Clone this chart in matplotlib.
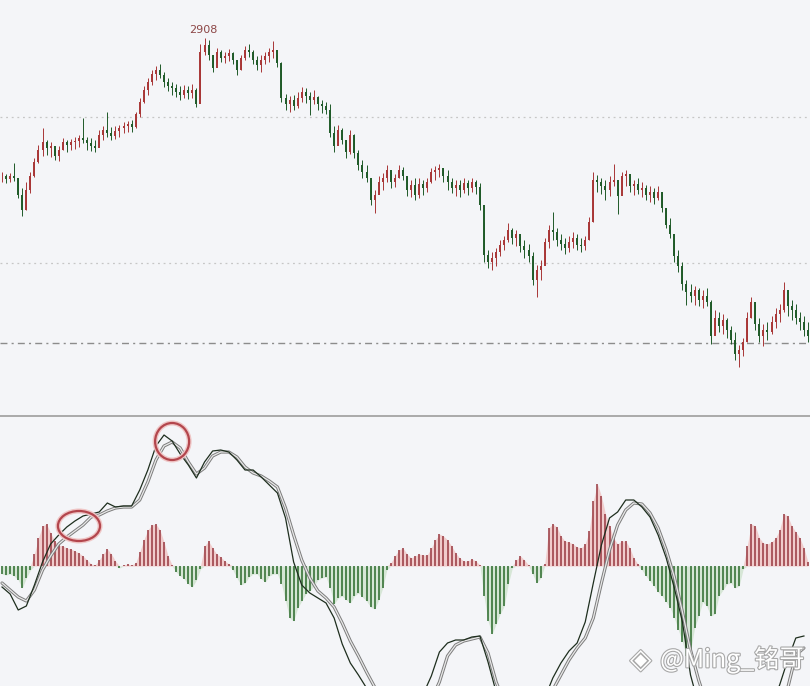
import matplotlib
matplotlib.use("Agg")
import matplotlib.pyplot as plt
import matplotlib.patheffects as pe
from matplotlib.patches import Ellipse
import numpy as np

plt.rcParams['font.family'] = ['Noto Sans CJK SC', 'DejaVu Sans']

# price candles, open = previous close
highs = [2724, 2722, 2723, 2737, 2716, 2702, 2711, 2724, 2744, 2761,
         2785, 2768, 2765, 2757, 2760, 2771, 2768, 2770, 2772, 2775,
         2798, 2772, 2771, 2768, 2782, 2787, 2807, 2786, 2787, 2789,
         2793, 2794, 2796, 2807, 2826, 2842, 2853, 2864, 2870, 2872,
         2861, 2853, 2848, 2845, 2842, 2844, 2842, 2845, 2839, 2900,
         2908, 2905, 2885, 2894, 2892, 2889, 2893, 2889, 2878, 2885,
         2897, 2900, 2892, 2883, 2885, 2889, 2894, 2904, 2885, 2875,
         2831, 2828, 2830, 2834, 2841, 2839, 2834, 2837, 2828, 2823,
         2820, 2818, 2787, 2789, 2785, 2768, 2782, 2776, 2755, 2741,
         2734, 2713, 2700, 2719, 2723, 2734, 2724, 2722, 2734, 2731,
         2718, 2713, 2716, 2716, 2713, 2716, 2730, 2733, 2735, 2730,
         2727, 2716, 2713, 2713, 2716, 2713, 2716, 2713, 2709, 2656,
         2618, 2615, 2620, 2631, 2637, 2654, 2648, 2645, 2637, 2631,
         2626, 2615, 2597, 2604, 2634, 2652, 2670, 2648, 2639, 2634,
         2637, 2642, 2639, 2634, 2637, 2663, 2724, 2720, 2716, 2713,
         2719, 2735, 2702, 2724, 2727, 2719, 2713, 2716, 2711, 2707,
         2705, 2702, 2705, 2697, 2675, 2661, 2631, 2618, 2601, 2576,
         2571, 2568, 2565, 2563, 2565, 2549, 2535, 2533, 2530, 2524,
         2513, 2505, 2487, 2497, 2533, 2553, 2542, 2524, 2516, 2519,
         2527, 2538, 2544, 2574, 2554, 2549, 2544, 2533, 2527, 2519]
lows = [2711, 2709, 2711, 2712, 2689, 2664, 2672, 2696, 2718, 2737,
        2746, 2748, 2745, 2741, 2739, 2755, 2752, 2755, 2756, 2759,
        2764, 2755, 2753, 2752, 2761, 2768, 2772, 2768, 2770, 2772,
        2778, 2779, 2779, 2785, 2800, 2819, 2830, 2844, 2850, 2853,
        2841, 2835, 2830, 2827, 2823, 2826, 2824, 2826, 2813, 2826,
        2885, 2878, 2861, 2874, 2875, 2874, 2876, 2872, 2857, 2864,
        2878, 2882, 2872, 2864, 2861, 2872, 2875, 2881, 2868, 2820,
        2809, 2807, 2809, 2812, 2820, 2819, 2802, 2818, 2809, 2805,
        2804, 2772, 2752, 2761, 2763, 2744, 2749, 2744, 2727, 2716,
        2711, 2679, 2668, 2697, 2700, 2711, 2702, 2704, 2716, 2713,
        2691, 2690, 2686, 2689, 2693, 2697, 2709, 2713, 2718, 2711,
        2700, 2696, 2691, 2690, 2696, 2693, 2697, 2694, 2672, 2601,
        2593, 2590, 2596, 2609, 2618, 2628, 2626, 2623, 2615, 2607,
        2601, 2570, 2553, 2576, 2601, 2620, 2631, 2623, 2618, 2612,
        2615, 2620, 2618, 2615, 2618, 2631, 2656, 2697, 2694, 2686,
        2691, 2705, 2667, 2700, 2705, 2697, 2693, 2694, 2690, 2686,
        2683, 2681, 2686, 2670, 2648, 2634, 2601, 2587, 2563, 2542,
        2546, 2542, 2541, 2538, 2541, 2489, 2502, 2505, 2502, 2497,
        2489, 2467, 2457, 2472, 2491, 2524, 2508, 2491, 2486, 2494,
        2502, 2511, 2519, 2533, 2527, 2522, 2516, 2508, 2500, 2491]
closes = [2719, 2715, 2719, 2716, 2693, 2672, 2700, 2719, 2738, 2755,
          2765, 2757, 2760, 2746, 2755, 2765, 2761, 2765, 2767, 2771,
          2768, 2764, 2760, 2757, 2775, 2782, 2778, 2774, 2780, 2785,
          2787, 2790, 2786, 2804, 2820, 2837, 2848, 2859, 2864, 2857,
          2848, 2842, 2839, 2834, 2830, 2837, 2833, 2837, 2818, 2889,
          2898, 2885, 2867, 2889, 2881, 2883, 2887, 2878, 2864, 2881,
          2892, 2889, 2878, 2871, 2878, 2883, 2889, 2892, 2874, 2826,
          2818, 2823, 2815, 2826, 2834, 2828, 2823, 2827, 2818, 2815,
          2809, 2778, 2760, 2782, 2768, 2752, 2775, 2750, 2734, 2724,
          2716, 2686, 2693, 2711, 2716, 2727, 2711, 2716, 2727, 2719,
          2700, 2707, 2693, 2708, 2702, 2711, 2724, 2727, 2730, 2719,
          2711, 2702, 2707, 2700, 2709, 2702, 2711, 2704, 2679, 2611,
          2601, 2607, 2615, 2624, 2631, 2645, 2634, 2639, 2623, 2618,
          2609, 2576, 2590, 2596, 2628, 2645, 2642, 2631, 2626, 2620,
          2628, 2634, 2624, 2623, 2631, 2656, 2713, 2711, 2705, 2700,
          2711, 2713, 2691, 2719, 2722, 2705, 2708, 2700, 2702, 2693,
          2697, 2689, 2697, 2675, 2652, 2639, 2609, 2596, 2571, 2560,
          2554, 2563, 2549, 2554, 2546, 2500, 2524, 2513, 2522, 2508,
          2494, 2475, 2480, 2491, 2524, 2546, 2516, 2500, 2508, 2505,
          2519, 2530, 2535, 2563, 2541, 2535, 2524, 2519, 2508, 2500]

# MACD histogram, one bar per candle
hist = [-0.8, -0.9, -0.8, -1.0, -1.4, -2.2, -1.2, -0.4, 1.2, 2.8,
        4.0, 4.2, 3.3, 2.5, 2.1, 2.0, 1.8, 1.7, 1.5, 1.3,
        1.0, 0.6, 0.2, 0.1, 0.6, 1.2, 1.7, 1.2, 0.5, -0.2,
        0.1, 0.2, 0.1, 0.3, 1.4, 2.6, 3.6, 4.1, 4.2, 3.6,
        2.4, 1.0, 0.1, -0.6, -1.0, -1.3, -1.8, -2.1, -1.4, -0.3,
        2.0, 2.5, 1.8, 1.2, 0.9, 0.5, 0.2, -0.4, -1.2, -1.9,
        -1.7, -1.1, -0.8, -0.8, -1.3, -1.6, -1.0, -0.8, -0.8, -1.8,
        -3.5, -5.2, -5.5, -4.2, -3.5, -2.8, -2.5, -2.0, -1.4, -1.2,
        -1.1, -2.2, -3.8, -3.2, -3.0, -3.4, -3.7, -3.0, -2.7, -3.1,
        -3.5, -4.1, -4.3, -3.4, -2.2, -0.4, 0.3, 1.0, 1.6, 1.8,
        1.2, 0.8, 1.0, 1.2, 1.1, 1.1, 1.8, 2.6, 3.2, 3.0,
        2.6, 2.0, 1.3, 0.8, 0.5, 0.5, 0.7, 0.5, 0.1, -3.0,
        -5.5, -6.8, -5.8, -4.8, -4.0, -1.8, -0.2, 0.6, 1.0, 0.6,
        0.1, -0.8, -1.7, -1.2, 0.2, 3.8, 4.2, 3.9, 3.0, 2.5,
        2.4, 2.2, 1.9, 1.8, 2.2, 3.5, 6.5, 8.2, 7.0, 5.2,
        4.0, 2.8, 2.2, 2.5, 2.5, 1.8, 0.8, 0.2, -0.4, -1.0,
        -1.5, -2.0, -2.6, -3.0, -3.6, -4.2, -5.2, -6.4, -7.6, -9.0,
        -8.5, -6.2, -5.0, -3.6, -4.0, -5.0, -4.8, -3.0, -2.4, -1.8,
        -1.7, -2.2, -2.0, -0.3, 2.0, 4.2, 4.0, 2.8, 2.3, 2.2,
        2.4, 2.8, 3.6, 5.2, 5.0, 4.0, 3.4, 2.8, 1.8, 0.4]

# DIF / DEA lines, read every second candle
line_step = 2
dif = [-2.1, -2.8, -4.4, -4.0, -1.9, 0.4, 2.2, 3.1, 3.9, 4.5,
       5.0, 5.2, 5.4, 6.3, 5.9, 6.0, 6.0, 7.6, 9.6, 12.0,
       13.1, 12.5, 11.2, 10.1, 8.8, 10.4, 11.5, 11.6, 11.4, 10.6,
       9.6, 9.6, 8.9, 8.1, 7.3, 4.8, 0.4, -1.9, -2.7, -3.2,
       -3.7, -5.2, -7.8, -9.7, -10.9, -12.2, -13.6, -14.8, -15.1, -14.9,
       -14.5, -13.8, -12.8, -11.0, -8.6, -7.7, -7.4, -7.4, -7.1, -7.0,
       -9.6, -12.6, -14.2, -14.7, -14.2, -14.1, -14.4, -13.2, -11.2, -9.7,
       -8.5, -7.7, -5.6, -1.7, 2.1, 4.8, 5.4, 6.6, 6.6, 5.9,
       4.9, 3.1, 0.8, -2.2, -5.6, -10.9, -13.9, -16.2, -17.9, -18.9,
       -19.6, -19.6, -18.9, -17.6, -15.9, -13.9, -11.9, -9.4, -7.2, -7.0]
dea = [-1.7, -2.4, -3.1, -3.5, -2.4, -0.4, 1.0, 2.2, 2.9, 3.5,
       4.1, 4.9, 5.1, 5.5, 5.8, 5.9, 5.9, 6.6, 8.4, 10.6,
       12.0, 12.4, 11.8, 10.4, 9.2, 9.8, 11.0, 11.4, 11.4, 10.9,
       9.9, 9.3, 9.0, 8.5, 7.9, 5.8, 3.1, 0.6, -1.2, -2.5,
       -3.2, -4.1, -5.7, -7.5, -9.0, -10.6, -12.1, -13.4, -15.3, -15.3,
       -15.2, -14.8, -14.2, -13.4, -11.6, -9.0, -7.9, -7.5, -7.3, -7.1,
       -8.7, -11.6, -13.6, -14.4, -14.6, -14.4, -14.2, -13.7, -12.4, -10.9,
       -9.4, -8.2, -7.2, -5.2, -1.7, 1.6, 4.1, 5.6, 6.3, 6.2,
       5.3, 3.8, 1.6, -1.1, -4.6, -8.4, -11.4, -13.9, -15.9, -17.4,
       -18.5, -19.1, -19.2, -18.6, -17.6, -16.1, -14.2, -12.2, -8.9, -8.2]

grid_levels = [2800, 2600]
ref_level = 2490
peak_label = "2908"
circled = [19, 42]          # candles marked with red rings
watermark = "@Ming_铭哥"

n = len(closes)
idx = np.arange(n)
opens = [closes[0]] + closes[:-1]
up = np.array(closes) >= np.array(opens)

bg = '#f4f5f8'
red, green = '#a83636', '#1f5a28'

fig = plt.figure(figsize=(8.1, 6.86), dpi=100)
fig.patch.set_facecolor(bg)
ax = fig.add_axes([0, 270 / 686, 1, 416 / 686])
ax2 = fig.add_axes([0, 0, 1, 268 / 686])
for a in (ax, ax2):
    a.set_facecolor(bg)
    a.set_xlim(-0.5, n - 0.5)
    a.set_xticks([])
    a.set_yticks([])
    for s in a.spines.values():
        s.set_visible(False)
ax.spines['bottom'].set_visible(True)
ax.spines['bottom'].set_color('#a9a9a9')
ax.spines['bottom'].set_linewidth(1.4)

# top: candles
ax.set_ylim(2390, 2960)
for lv in grid_levels:
    ax.axhline(lv, color='#c6c6c6', lw=0.9, ls=(0, (1.5, 3)), zorder=1)
ax.axhline(ref_level, color='#8c8c8c', lw=1.0, ls=(0, (5, 3, 1.5, 3)), zorder=1)
cols = np.where(up, red, green)
ax.vlines(idx, lows, highs, colors=cols, lw=0.7, zorder=3)
ax.vlines(idx, np.minimum(opens, closes), np.maximum(opens, closes),
          colors=cols, lw=1.4, zorder=3)
peak = int(np.argmax(highs))
ax.annotate(peak_label, (peak, highs[peak]), xytext=(-1, 2),
            textcoords='offset points', ha='center', va='bottom',
            fontsize=8, color='#8c4646', family='DejaVu Sans')

# bottom: MACD
ax2.set_ylim(-12.0, 14.8)
h = np.array(hist)
ax2.fill_between(idx, 0, np.where(h > 0, h, 0), color='#f0cccc', lw=0, zorder=1)
ax2.fill_between(idx, 0, np.where(h < 0, h, 0), color='#d6e6d6', lw=0, zorder=1)
ax2.vlines(idx, 0, h, colors=np.where(h >= 0, '#983840', '#2a6a2a'), lw=1.1, zorder=2)

lx = np.arange(0, n, line_step)
ax2.plot(lx, dea, color='#7c7c7c', lw=2.3, zorder=4, solid_capstyle='round')
ax2.plot(lx, dea, color='#e9e9e9', lw=0.9, zorder=5)
ax2.plot(lx, dif, color='#1e2e1e', lw=0.9, zorder=6)

for c in circled:
    cy = (dif[c // line_step] + dea[c // line_step]) / 2
    w, hgt = (10.4, 3.0) if c < 30 else (8.4, 3.7)
    ax2.add_patch(Ellipse((c, cy), w, hgt, fill=False, ec='#efc6c6', lw=3.6, zorder=7))
    ax2.add_patch(Ellipse((c, cy), w, hgt, fill=False, ec='#b3464d', lw=1.6, zorder=8))

stroke = [pe.withStroke(linewidth=1.6, foreground='#a8a8a8')]
fig.text(0.791, 0.038, '◈', fontsize=20, color='white', ha='center', va='center',
         family='DejaVu Sans', path_effects=stroke, zorder=10)
fig.text(0.815, 0.038, watermark, fontsize=18, color='white', ha='left', va='center',
         path_effects=stroke, zorder=10)

fig.savefig('out.png', dpi=100, facecolor=bg)
